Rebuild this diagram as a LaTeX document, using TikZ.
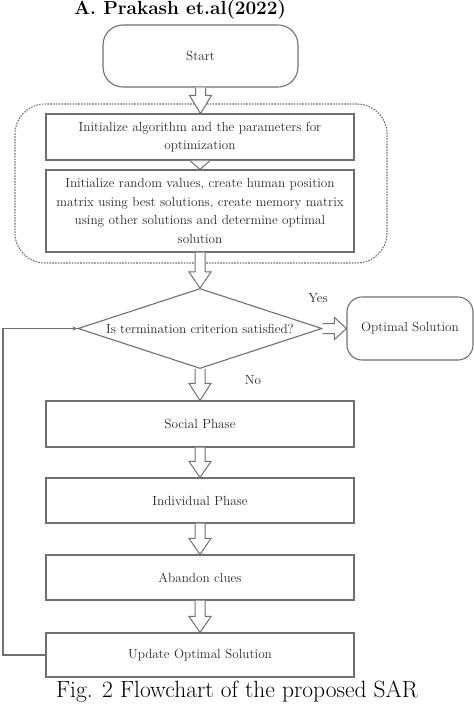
\documentclass[tikz,border=0pt]{standalone}
\usepackage{fontspec}
\usetikzlibrary{shapes.geometric,calc,arrows.meta}
\definecolor{lc}{HTML}{707070}
\definecolor{tc}{HTML}{2a2a2a}
\newcommand\boxfont{\fontsize{13.2}{18.5}\selectfont}
\newcommand\vharrow[3]{%
  \draw[harrow] let \p1=(#1), \p2=(#2) in
    (\x1-5pt,\y1) -- (\x1-5pt,\y2+#3) -- (\x1-11pt,\y2+#3) -- (\x1,\y2)
    -- (\x1+11pt,\y2+#3) -- (\x1+5pt,\y2+#3) -- (\x1+5pt,\y1);}
\newcommand\hharrow[3]{%
  \draw[harrow] let \p1=(#1), \p2=(#2) in
    (\x1,\y1-5pt) -- (\x2-#3,\y1-5pt) -- (\x2-#3,\y1-11pt) -- (\x2,\y1)
    -- (\x2-#3,\y1+11pt) -- (\x2-#3,\y1+5pt) -- (\x1,\y1+5pt);}
\newcommand\vhead[2]{%
  \draw[harrow] let \p1=(#1), \p2=(#2) in
    (\x1-10pt,\y1) -- (\x1,\y2) -- (\x1+10pt,\y1);}
\begin{document}
\begin{tikzpicture}[x=1pt,y=-1pt,
  line/.style={draw=lc,line width=1.1pt},
  harrow/.style={draw=lc,line width=1pt,fill=white,line join=miter},
  procbox/.style={line,rectangle,minimum width=308,minimum height=#1,inner sep=2pt,
    align=center,text width=304,font=\boxfont,text=tc},
  procbox/.default=46,
  termbox/.style={line,rectangle,rounded corners=#1,align=center,font=\boxfont,text=tc},
  lbl/.style={font=\boxfont,text=tc}]
\useasboundingbox (0,0) rectangle (474,705);
\node[font=\fontsize{19}{22}\selectfont\bfseries] (title) at (180,10) {A. Prakash et.al(2022)};
\node[termbox=20,minimum width=195,minimum height=62] (start) at (200.5,56) {Start};
\node[draw=lc,line width=1.1pt,dashed,dash pattern=on 1.6pt off 1.2pt,rounded corners=30,
  minimum width=372,minimum height=159] (group) at (201,183.5) {};
\node[procbox=46] (b1) at (200,137) {Initialize algorithm and the parameters for\\ optimization};
\node[procbox=82] (b2) at (200,211) {Initialize random values, create human position\\ matrix using best solutions, create memory matrix\\ using other solutions and determine optimal\\ solution};
\node[line,diamond,minimum width=244,minimum height=80,inner sep=0,
  label={[lbl]center:Is termination criterion satisfied?}] (dec) at (200,328.5) {};
\node[termbox=15,minimum width=126,minimum height=63] (opt) at (410,328.5) {Optimal Solution};
\node[procbox=46] (soc) at (200,424) {Social Phase};
\node[procbox=45] (ind) at (200,500.5) {Individual Phase};
\node[procbox=45] (aba) at (200,577.5) {Abandon clues};
\node[procbox=44] (upd) at (200,655) {Update Optimal Solution};
\node[lbl] (yes) at (318,298) {Yes};
\node[lbl] (no) at (253,380) {No};
\node[font=\fontsize{23.5}{26}\selectfont] (cap) at (237,692) {Fig. 2 Flowchart of the proposed SAR};
\coordinate (loopx) at (3,655);
% hollow arrows
\vharrow{start.south}{b1.north}{18pt}
\vhead{b1.south}{b2.north}
\vharrow{b2.south}{dec.north}{16pt}
\vharrow{dec.south}{soc.north}{17pt}
\vharrow{soc.south}{ind.north}{16pt}
\vharrow{ind.south}{aba.north}{16pt}
\vharrow{aba.south}{upd.north}{16pt}
\hharrow{dec.east}{opt.west}{12pt}
% loop back
\draw[line,-{Stealth[length=5pt,width=4pt]}] (upd.west) -- (upd.west -| loopx) |- (dec.west);
\end{tikzpicture}
\end{document}
